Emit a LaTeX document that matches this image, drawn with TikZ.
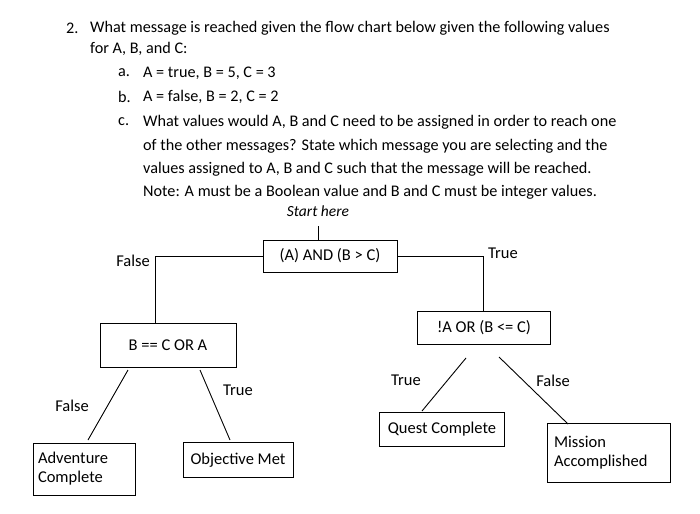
\documentclass[tikz,border=0pt]{standalone}
\usepackage{fontspec}
\setmainfont{Carlito}
\begin{document}
\begin{tikzpicture}[x=1pt,y=-1pt,
  txt/.style={font=\fontsize{16.2}{18}\selectfont,inner sep=0pt},
  lab/.style={font=\fontsize{16.5}{18}\selectfont,inner sep=0pt},
  box/.style={draw,line width=0.8pt,inner sep=0pt,font=\fontsize{16.5}{19}\selectfont},
  ln/.style={line width=0.9pt}]
\fill[white] (0,0) rectangle (700,513);
\useasboundingbox (0,0) rectangle (700,513);
\node[txt,anchor=west] (n2) at (66,28) {2.};
\node[txt,anchor=west] (q1) at (90,28) {What message is reached given the flow chart below given the following values};
\node[txt,anchor=west] (q2) at (90,49) {for A, B, and C:};
\node[txt,anchor=west] (la) at (118,73) {a.};
\node[txt,anchor=west] (ta) at (143,73) {A = true, B = 5, C = 3};
\node[txt,anchor=west] (lb) at (118,97) {b.};
\node[txt,anchor=west] (tb) at (143,97) {A = false, B = 2, C = 2};
\node[txt,anchor=west] (lc) at (118,122) {c.};
\node[txt,anchor=west] (tc1) at (143,122) {What values would A, B and C need to be assigned in order to reach one};
\node[txt,anchor=west] (tc2) at (143,146) {of the other messages? State which message you are selecting and the};
\node[txt,anchor=west] (tc3) at (143,169) {values assigned to A, B and C such that the message will be reached.};
\node[txt,anchor=west] (tc4) at (143,192) {Note: A must be a Boolean value and B and C must be integer values.};

\node[inner sep=0pt,font=\fontsize{15.5}{16}\selectfont\itshape] (start) at (318,211) {Start here};
\node[box,minimum width=134pt,minimum height=32pt] (and) at (330,256) {(A) AND (B > C)};
\draw[ln] (318,226) -- (and.north -| 318,0);
\node[box,minimum width=136pt,minimum height=44pt] (bc) at (168,345) {B == C OR A};
\node[box,minimum width=133pt,minimum height=33pt] (ia) at (484,328) {!A OR (B <= C)};
\draw[ln] (and.west) -- (155,256) -- (bc.north -| 155,0);
\draw[ln] (and.east) -- (483,256) -- (ia.north -| 483,0);
\node[lab] (f1) at (133,261) {False};
\node[lab] (t1) at (503,253) {True};

\node[box,minimum width=102pt,minimum height=52pt,align=left,text width=92pt] (adv) at (84,469) {Adventure\\Complete};
\node[box,minimum width=110pt,minimum height=35pt] (obj) at (238,460) {Objective Met};
\node[box,minimum width=125pt,minimum height=34pt] (qc) at (442,429) {Quest Complete};
\node[box,minimum width=123pt,minimum height=59pt,align=left,text width=110pt] (mis) at (609,453) {Mission\\Accomplished};
\coordinate (b1) at (128,370); \coordinate (b2) at (200,370);
\coordinate (i1) at (466,358); \coordinate (i2) at (499,357);
\draw[ln] (b1) -- (88,440);
\draw[ln] (b2) -- (230,440);
\draw[ln] (i1) -- (422,411);
\draw[ln] (i2) -- (568,424);
\node[lab] (f2) at (72,406) {False};
\node[lab] (t2) at (238,390) {True};
\node[lab] (t3) at (406,380) {True};
\node[lab] (f3) at (553,381) {False};
\end{tikzpicture}
\end{document}
